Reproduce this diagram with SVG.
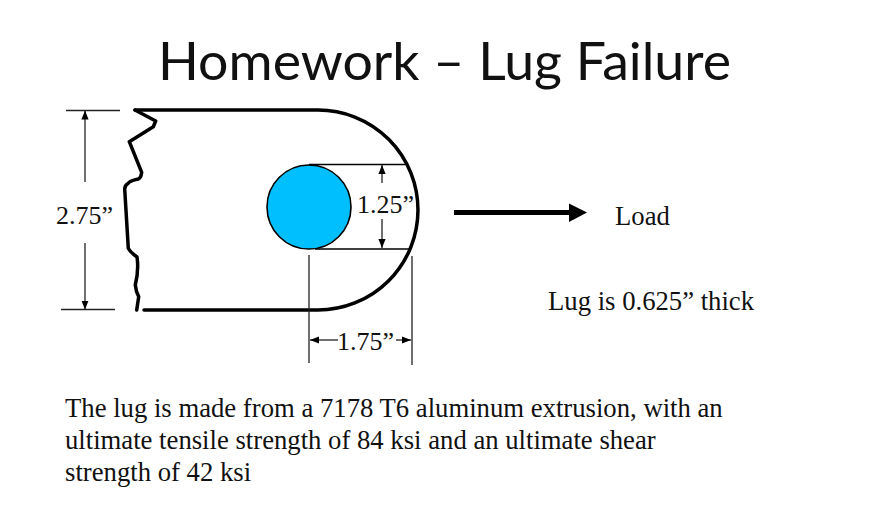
<svg xmlns="http://www.w3.org/2000/svg" width="883" height="520" viewBox="0 0 883 520">
<style>
.t{font-family:"Liberation Serif","Times New Roman",serif;fill:#111;font-size:26.7px}
.d{font-family:"Liberation Serif","Times New Roman",serif;fill:#111;font-size:26px}
.h{font-family:Lato,"Open Sans",sans-serif;fill:#111;font-size:53px}
.thick{fill:none;stroke:#000;stroke-width:3.5px;stroke-linejoin:round;stroke-linecap:round}
.thin{fill:none;stroke:#222;stroke-width:1.3px}
.thin2{fill:none;stroke:#000;stroke-width:1.5px}
</style>
<defs>
<marker id="a" viewBox="0 0 10 8" refX="10" refY="4" markerWidth="9" markerHeight="8" markerUnits="userSpaceOnUse" orient="auto-start-reverse"><path d="M0 0L10 4L0 8Z" fill="#000"/></marker>
</defs>
<rect width="883" height="520" fill="#fff"/>
<text id="title" class="h" x="158" y="80" textLength="573" lengthAdjust="spacingAndGlyphs">Homework – Lug Failure</text>
<g id="lug">
<path class="thick" d="M135 110H318A100 100 0 0 1 318 310H144"/>
<path class="thick" d="M135 110L155.7 121L153.3 126.7L129.3 141.7L141.7 172.300Q141 178 138.3 179Q129 181 128.3 183.300Q125 185 124.7 189L128.3 248.300Q130 252 137 257Q139 270 135.300 285Q136 292 138.7 296.700L136.700 310"/>
</g>
<g id="hole"><circle cx="309" cy="207" r="42" fill="#00bfff" stroke="#000" stroke-width="1.6"/></g>
<g id="connectors">
<path class="thin" d="M66 110.500H120M61 309.500H115"/>
<path class="thin" d="M85 182V110.500" marker-end="url(#a)"/>
<path class="thin" d="M85 243V309.500" marker-end="url(#a)"/>
<path class="thin2" d="M309 164.500H408M315 249H410"/>
<path class="thin" d="M382 183V165" marker-end="url(#a)"/>
<path class="thin" d="M382 219V248" marker-end="url(#a)"/>
<path class="thin" d="M309 255V363M412 256V365"/>
<path class="thin" d="M338 340H310" marker-end="url(#a)"/>
<path class="thin" d="M396 340H411" marker-end="url(#a)"/>
<path d="M454 212.500H570" fill="none" stroke="#000" stroke-width="5"/>
<path d="M569 203.500L587 212.500L569 222Z" fill="#000"/>
</g>
<g id="labels">
<text class="d" x="56" y="224">2.75”</text>
<text class="d" x="357" y="213">1.25”</text>
<text class="d" x="337" y="350">1.75”</text>
<text class="t" x="615" y="225">Load</text>
<text class="t" x="548" y="310">Lug is 0.625” thick</text>
<text class="t" x="65" y="417">The lug is made from a 7178 T6 aluminum extrusion, with an</text>
<text class="t" x="65" y="449">ultimate tensile strength of 84 ksi and an ultimate shear</text>
<text class="t" x="65" y="481">strength of 42 ksi</text>
</g>
</svg>
